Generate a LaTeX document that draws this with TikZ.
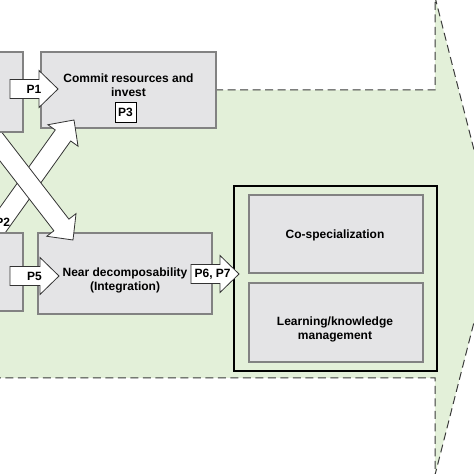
\documentclass[tikz,border=0pt]{standalone}
\usepackage{fontspec}
\setmainfont{Liberation Sans}
\usepackage{tikz}
\usetikzlibrary{calc,positioning}

\definecolor{lightgreen}{HTML}{E3F0D9}
\definecolor{boxgrey}{HTML}{E4E4E6}
\definecolor{edgegrey}{HTML}{828282}
\definecolor{dashgrey}{HTML}{3A3A3A}

% fat white arrow from a tail coordinate to a tip coordinate
\newcommand{\fatarrow}[2]{%
    \coordinate (#1-base) at ($(#2)!19pt!(#1)$);
    \draw [blockarrow]
        ($(#1)!9.5pt!-90:(#2)$) -- ($(#1-base)!9.5pt!-90:(#2)$)
        -- ($(#1-base)!18.5pt!-90:(#2)$) -- (#2)
        -- ($(#1-base)!18.5pt!90:(#2)$) -- ($(#1-base)!9.5pt!90:(#2)$)
        -- ($(#1)!9.5pt!90:(#2)$) -- cycle;
}

\begin{document}
\begin{tikzpicture}[
            x=1pt,y=1pt,
            greybox/.style={draw=edgegrey,line width=1.3pt,fill=boxgrey,inner sep=0pt},
            blockarrow/.style={draw=black!80,line width=0.8pt,fill=white,line join=miter},
            boldtext/.style={font=\fontsize{12}{14}\selectfont\bfseries,align=center,inner sep=0pt},
            phase/.style={draw=dashgrey,line width=1pt,dash pattern=on 8pt off 4.5pt,fill=lightgreen}
        ]
            \useasboundingbox (0,0) rectangle (474,474);
            % large dashed green arrow in the back
            \draw [phase] (-10,384) -- (435,384) -- (435,477) -- (496,238)
                -- (435,-1) -- (435,96) -- (-10,96) -- cycle;
            % boxes
            \node [greybox,minimum width=175,minimum height=76] (commit) at (128.5,384) {};
            \node [boldtext] (committext) at (128.5,389) {Commit resources and\\invest};
            \node [draw=black,line width=0.8pt,fill=white,minimum width=21,minimum height=20,boldtext] (pthree) at (125.5,362) {P3};
            \node [greybox,minimum width=174,minimum height=81] (near) at (125,200.5) {};
            \node [boldtext] (neartext) at (125,194) {Near decomposability\\(Integration)};
            \node [draw=black,line width=2.6pt,minimum width=203,minimum height=185] (outcome) at (335.5,195.5) {};
            \node [greybox,minimum width=174,minimum height=78] (cospec) at (336,240) {};
            \node [boldtext] (cospectext) at (335,239) {Co-specialization};
            \node [greybox,minimum width=174,minimum height=79] (learning) at (336,151.5) {};
            \node [boldtext] (learningtext) at (335,144.5) {Learning/knowledge\\management};
            % crossing arrows
            \coordinate (uptail) at (-13,232);
            \coordinate (uptip) at (74,354);
            \coordinate (downtail) at (-12.5,344.7);
            \coordinate (downtip) at (73,234);
            \fatarrow{uptail}{uptip}
            \fatarrow{downtail}{downtip}
            % boxes cut off on the left
            \node [greybox,minimum width=83,minimum height=80] (lefttop) at (-18.5,382) {};
            \node [greybox,minimum width=83,minimum height=78] (leftbottom) at (-18.5,202) {};
            % straight arrows
            \coordinate (ponetail) at (10,385);
            \coordinate (ponetip) at (58,385);
            \coordinate (pfivetail) at (10,198);
            \coordinate (pfivetip) at (59,198);
            \coordinate (psixtail) at (191,200);
            \coordinate (psixtip) at (239,200);
            \fatarrow{ponetail}{ponetip}
            \fatarrow{pfivetail}{pfivetip}
            \fatarrow{psixtail}{psixtip}
            \node [boldtext] (pone) at ($(ponetail)!0.5!(ponetip)$) {P1};
            \node [boldtext] (pfive) at ($(pfivetail)!0.5!(pfivetip)$) {P5};
            \node [boldtext] (psix) at ($(psixtail)!0.45!(psixtip)$) {P6, P7};
            \node [boldtext] (ptwo) at (2.7,252) {P2};
        \end{tikzpicture}
\end{document}
